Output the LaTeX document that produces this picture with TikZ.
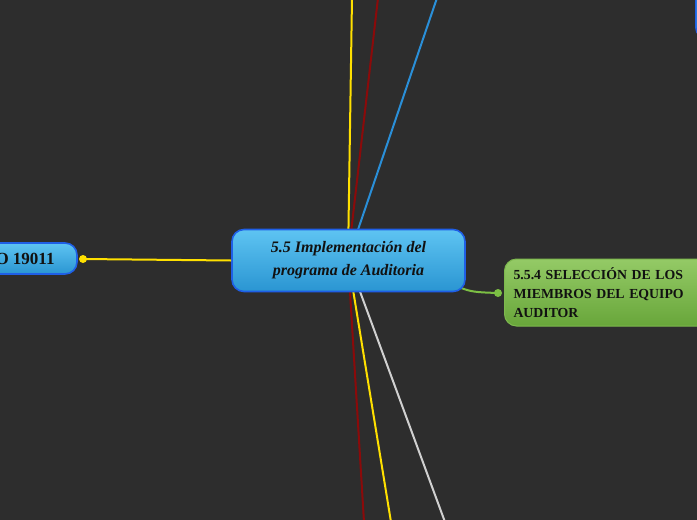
\documentclass[tikz,border=0pt]{standalone}
\usepackage{fontspec}
\setmainfont{Liberation Serif}
\begin{document}
\begin{tikzpicture}[x=1pt,y=-1pt,
  conn/.style={line width=2pt},
  bluebox/.style={draw=boxborder,line width=1.6pt,rounded corners=12pt,
    top color=bluetop,bottom color=bluebot,text=txt},
  greenbox/.style={draw=greenborder,line width=1pt,rounded corners=12pt,
    top color=greentop,bottom color=greenbot,text=txt},
  ]
\definecolor{bg}{HTML}{2D2D2D}
\definecolor{txt}{HTML}{111111}
\definecolor{bluetop}{HTML}{5EC4F2}
\definecolor{bluebot}{HTML}{2A95D2}
\definecolor{boxborder}{HTML}{1F5FE6}
\definecolor{greentop}{HTML}{94CA66}
\definecolor{greenbot}{HTML}{68A63A}
\definecolor{greenborder}{HTML}{7DB84E}
\definecolor{lyellow}{HTML}{FFE000}
\definecolor{lred}{HTML}{8B0A0A}
\definecolor{lblue}{HTML}{2A8FD8}
\definecolor{lgray}{HTML}{D0D0D0}
\definecolor{lgreen}{HTML}{7CBF44}
\fill[bg] (0,0) rectangle (697,520);
\useasboundingbox (0,0) rectangle (697,520);
% free ends
\coordinate (o) at (348,259);
\coordinate (ty) at (352,-2);
\coordinate (tr) at (378,-2);
\coordinate (tb) at (437,-2);
\coordinate (br) at (364,522);
\coordinate (by) at (391,522);
\coordinate (bg) at (445,522);
\coordinate (isodot) at (83,259);
\coordinate (gdot) at (498,293);
\coordinate (gstart) at (438,277);
% connectors behind
\draw[conn,lyellow] (o) -- (ty);
\draw[conn,lred] (o) -- (tr);
\draw[conn,lblue] (o) -- (tb);
\draw[conn,lred] (o) -- (br);
\draw[conn,lyellow] (o) -- (by);
\draw[conn,lgray] (o) -- (bg);
\draw[conn,lgreen] (gstart) .. controls (468,292) .. (gdot);
\fill[lgreen] (gdot) circle (4);
% nodes
\node[bluebox,minimum width=233pt,minimum height=62pt,align=center,
  font=\bfseries\itshape\fontsize{16}{23}\selectfont] (center) at (348.5,260.5)
  {5.5 Implementación del\\programa de Auditoria};
\node[bluebox,minimum width=120pt,minimum height=31pt,
  font=\bfseries\fontsize{17}{18}\selectfont] (iso) at (17,258.5) {ISO 19011};
\draw[conn,lyellow] (center.west) -- (isodot);
\fill[lyellow] (isodot) circle (4);
\node[greenbox,anchor=west,text width=220pt,align=left,inner xsep=9pt,
  minimum height=67pt,font=\bfseries\fontsize{13.8}{19}\selectfont] (sel) at (504,292.5)
  {5.5.4 SELECCIÓN DE LOS\\MIEMBROS DEL EQUIPO\\AUDITOR};
\node[bluebox,anchor=south west,minimum width=120pt,minimum height=80pt] (topright) at (695,40) {};
\end{tikzpicture}
\end{document}
